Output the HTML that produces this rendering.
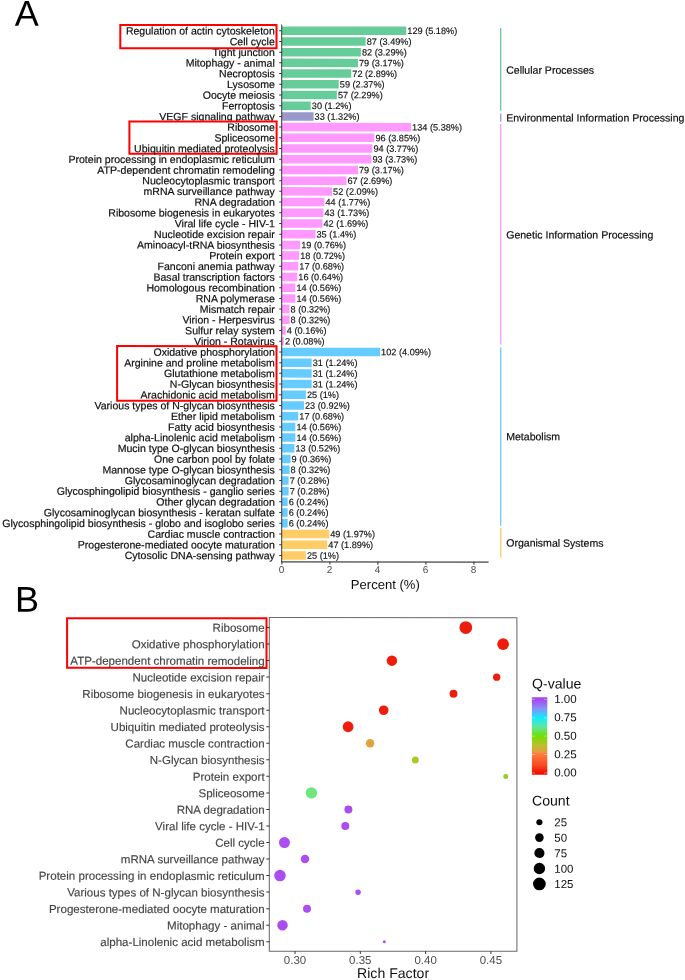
<!DOCTYPE html>
<html lang="en"><head><meta charset="utf-8"><title>KEGG enrichment figure</title>
<style>html,body{margin:0;padding:0;background:#fff}svg{display:block}</style></head>
<body>
<svg width="685" height="980" viewBox="0 0 685 980" font-family="'Liberation Sans', sans-serif">
<rect width="685" height="980" fill="#fff"/>
<defs><filter id="soft" x="0" y="0" width="685" height="980" filterUnits="userSpaceOnUse"><feGaussianBlur stdDeviation="0.45"/></filter></defs>
<g filter="url(#soft)"><g transform="matrix(1 0.0005 0 1 0 -0.15)" style="text-rendering:geometricPrecision">
<text x="14.65" y="26" font-size="36" fill="#000">A</text>
<text x="14.95" y="612" font-size="36" fill="#000">B</text>
<g>
<text x="274.8" y="34.55" font-size="10.55" text-anchor="end" fill="#111" stroke="#111" stroke-width="0.2">Regulation of actin cytoskeleton</text>
<text x="274.8" y="45.26" font-size="10.55" text-anchor="end" fill="#111" stroke="#111" stroke-width="0.2">Cell cycle</text>
<text x="274.8" y="55.96" font-size="10.55" text-anchor="end" fill="#111" stroke="#111" stroke-width="0.2">Tight junction</text>
<text x="274.8" y="66.67" font-size="10.55" text-anchor="end" fill="#111" stroke="#111" stroke-width="0.2">Mitophagy - animal</text>
<text x="274.8" y="77.38" font-size="10.55" text-anchor="end" fill="#111" stroke="#111" stroke-width="0.2">Necroptosis</text>
<text x="274.8" y="88.08" font-size="10.55" text-anchor="end" fill="#111" stroke="#111" stroke-width="0.2">Lysosome</text>
<text x="274.8" y="98.79" font-size="10.55" text-anchor="end" fill="#111" stroke="#111" stroke-width="0.2">Oocyte meiosis</text>
<text x="274.8" y="109.50" font-size="10.55" text-anchor="end" fill="#111" stroke="#111" stroke-width="0.2">Ferroptosis</text>
<text x="274.8" y="120.21" font-size="10.55" text-anchor="end" fill="#111" stroke="#111" stroke-width="0.2">VEGF signaling pathway</text>
<text x="274.8" y="130.91" font-size="10.55" text-anchor="end" fill="#111" stroke="#111" stroke-width="0.2">Ribosome</text>
<text x="274.8" y="141.62" font-size="10.55" text-anchor="end" fill="#111" stroke="#111" stroke-width="0.2">Spliceosome</text>
<text x="274.8" y="152.33" font-size="10.55" text-anchor="end" fill="#111" stroke="#111" stroke-width="0.2">Ubiquitin mediated proteolysis</text>
<text x="274.8" y="163.03" font-size="10.55" text-anchor="end" fill="#111" stroke="#111" stroke-width="0.2">Protein processing in endoplasmic reticulum</text>
<text x="274.8" y="173.74" font-size="10.55" text-anchor="end" fill="#111" stroke="#111" stroke-width="0.2">ATP-dependent chromatin remodeling</text>
<text x="274.8" y="184.45" font-size="10.55" text-anchor="end" fill="#111" stroke="#111" stroke-width="0.2">Nucleocytoplasmic transport</text>
<text x="274.8" y="195.16" font-size="10.55" text-anchor="end" fill="#111" stroke="#111" stroke-width="0.2">mRNA surveillance pathway</text>
<text x="274.8" y="205.86" font-size="10.55" text-anchor="end" fill="#111" stroke="#111" stroke-width="0.2">RNA degradation</text>
<text x="274.8" y="216.57" font-size="10.55" text-anchor="end" fill="#111" stroke="#111" stroke-width="0.2">Ribosome biogenesis in eukaryotes</text>
<text x="274.8" y="227.28" font-size="10.55" text-anchor="end" fill="#111" stroke="#111" stroke-width="0.2">Viral life cycle - HIV-1</text>
<text x="274.8" y="237.98" font-size="10.55" text-anchor="end" fill="#111" stroke="#111" stroke-width="0.2">Nucleotide excision repair</text>
<text x="274.8" y="248.69" font-size="10.55" text-anchor="end" fill="#111" stroke="#111" stroke-width="0.2">Aminoacyl-tRNA biosynthesis</text>
<text x="274.8" y="259.40" font-size="10.55" text-anchor="end" fill="#111" stroke="#111" stroke-width="0.2">Protein export</text>
<text x="274.8" y="270.10" font-size="10.55" text-anchor="end" fill="#111" stroke="#111" stroke-width="0.2">Fanconi anemia pathway</text>
<text x="274.8" y="280.81" font-size="10.55" text-anchor="end" fill="#111" stroke="#111" stroke-width="0.2">Basal transcription factors</text>
<text x="274.8" y="291.52" font-size="10.55" text-anchor="end" fill="#111" stroke="#111" stroke-width="0.2">Homologous recombination</text>
<text x="274.8" y="302.23" font-size="10.55" text-anchor="end" fill="#111" stroke="#111" stroke-width="0.2">RNA polymerase</text>
<text x="274.8" y="312.93" font-size="10.55" text-anchor="end" fill="#111" stroke="#111" stroke-width="0.2">Mismatch repair</text>
<text x="274.8" y="323.64" font-size="10.55" text-anchor="end" fill="#111" stroke="#111" stroke-width="0.2">Virion - Herpesvirus</text>
<text x="274.8" y="334.35" font-size="10.55" text-anchor="end" fill="#111" stroke="#111" stroke-width="0.2">Sulfur relay system</text>
<text x="274.8" y="345.05" font-size="10.55" text-anchor="end" fill="#111" stroke="#111" stroke-width="0.2">Virion - Rotavirus</text>
<text x="274.8" y="355.76" font-size="10.55" text-anchor="end" fill="#111" stroke="#111" stroke-width="0.2">Oxidative phosphorylation</text>
<text x="274.8" y="366.47" font-size="10.55" text-anchor="end" fill="#111" stroke="#111" stroke-width="0.2">Arginine and proline metabolism</text>
<text x="274.8" y="377.17" font-size="10.55" text-anchor="end" fill="#111" stroke="#111" stroke-width="0.2">Glutathione metabolism</text>
<text x="274.8" y="387.88" font-size="10.55" text-anchor="end" fill="#111" stroke="#111" stroke-width="0.2">N-Glycan biosynthesis</text>
<text x="274.8" y="398.59" font-size="10.55" text-anchor="end" fill="#111" stroke="#111" stroke-width="0.2">Arachidonic acid metabolism</text>
<text x="274.8" y="409.30" font-size="10.55" text-anchor="end" fill="#111" stroke="#111" stroke-width="0.2">Various types of N-glycan biosynthesis</text>
<text x="274.8" y="420.00" font-size="10.55" text-anchor="end" fill="#111" stroke="#111" stroke-width="0.2">Ether lipid metabolism</text>
<text x="274.8" y="430.71" font-size="10.55" text-anchor="end" fill="#111" stroke="#111" stroke-width="0.2">Fatty acid biosynthesis</text>
<text x="274.8" y="441.42" font-size="10.55" text-anchor="end" fill="#111" stroke="#111" stroke-width="0.2">alpha-Linolenic acid metabolism</text>
<text x="274.8" y="452.12" font-size="10.55" text-anchor="end" fill="#111" stroke="#111" stroke-width="0.2">Mucin type O-glycan biosynthesis</text>
<text x="274.8" y="462.83" font-size="10.55" text-anchor="end" fill="#111" stroke="#111" stroke-width="0.2">One carbon pool by folate</text>
<text x="274.8" y="473.54" font-size="10.55" text-anchor="end" fill="#111" stroke="#111" stroke-width="0.2">Mannose type O-glycan biosynthesis</text>
<text x="274.8" y="484.24" font-size="10.55" text-anchor="end" fill="#111" stroke="#111" stroke-width="0.2">Glycosaminoglycan degradation</text>
<text x="274.8" y="494.95" font-size="10.55" text-anchor="end" fill="#111" stroke="#111" stroke-width="0.2">Glycosphingolipid biosynthesis - ganglio series</text>
<text x="274.8" y="505.66" font-size="10.55" text-anchor="end" fill="#111" stroke="#111" stroke-width="0.2">Other glycan degradation</text>
<text x="274.8" y="516.37" font-size="10.55" text-anchor="end" fill="#111" stroke="#111" stroke-width="0.2">Glycosaminoglycan biosynthesis - keratan sulfate</text>
<text x="274.8" y="527.07" font-size="10.55" text-anchor="end" fill="#111" stroke="#111" stroke-width="0.2">Glycosphingolipid biosynthesis - globo and isoglobo series</text>
<text x="274.8" y="537.78" font-size="10.55" text-anchor="end" fill="#111" stroke="#111" stroke-width="0.2">Cardiac muscle contraction</text>
<text x="274.8" y="548.49" font-size="10.55" text-anchor="end" fill="#111" stroke="#111" stroke-width="0.2">Progesterone-mediated oocyte maturation</text>
<text x="274.8" y="559.19" font-size="10.55" text-anchor="end" fill="#111" stroke="#111" stroke-width="0.2">Cytosolic DNA-sensing pathway</text>
</g>
<rect x="120.3" y="25.0" width="156.2" height="23.3" fill="#fff" stroke="#FF0000" stroke-width="2"/>
<text x="274.8" y="34.55" font-size="10.55" text-anchor="end" fill="#111" stroke="#111" stroke-width="0.2">Regulation of actin cytoskeleton</text>
<text x="274.8" y="45.26" font-size="10.55" text-anchor="end" fill="#111" stroke="#111" stroke-width="0.2">Cell cycle</text>
<rect x="129.4" y="121.6" width="147.2" height="32.2" fill="#fff" stroke="#FF0000" stroke-width="2"/>
<text x="274.8" y="130.91" font-size="10.55" text-anchor="end" fill="#111" stroke="#111" stroke-width="0.2">Ribosome</text>
<text x="274.8" y="141.62" font-size="10.55" text-anchor="end" fill="#111" stroke="#111" stroke-width="0.2">Spliceosome</text>
<text x="274.8" y="152.33" font-size="10.55" text-anchor="end" fill="#111" stroke="#111" stroke-width="0.2">Ubiquitin mediated proteolysis</text>
<rect x="117.1" y="346.2" width="159.4" height="54.6" fill="#fff" stroke="#FF0000" stroke-width="2"/>
<text x="274.8" y="355.76" font-size="10.55" text-anchor="end" fill="#111" stroke="#111" stroke-width="0.2">Oxidative phosphorylation</text>
<text x="274.8" y="366.47" font-size="10.55" text-anchor="end" fill="#111" stroke="#111" stroke-width="0.2">Arginine and proline metabolism</text>
<text x="274.8" y="377.17" font-size="10.55" text-anchor="end" fill="#111" stroke="#111" stroke-width="0.2">Glutathione metabolism</text>
<text x="274.8" y="387.88" font-size="10.55" text-anchor="end" fill="#111" stroke="#111" stroke-width="0.2">N-Glycan biosynthesis</text>
<text x="274.8" y="398.59" font-size="10.55" text-anchor="end" fill="#111" stroke="#111" stroke-width="0.2">Arachidonic acid metabolism</text>
<rect x="281.9" y="26.50" width="124.32" height="8.5" fill="#66CC99"/>
<text x="407.3" y="34.05" font-size="9.18" fill="#111" stroke="#111" stroke-width="0.15">129 (5.18%)</text>
<line x1="279.2" x2="281.7" y1="30.75" y2="30.75" stroke="#333" stroke-width="1"/>
<rect x="281.9" y="37.21" width="83.76" height="8.5" fill="#66CC99"/>
<text x="366.7" y="44.76" font-size="9.18" fill="#111" stroke="#111" stroke-width="0.15">87 (3.49%)</text>
<line x1="279.2" x2="281.7" y1="41.46" y2="41.46" stroke="#333" stroke-width="1"/>
<rect x="281.9" y="47.91" width="78.96" height="8.5" fill="#66CC99"/>
<text x="361.9" y="55.46" font-size="9.18" fill="#111" stroke="#111" stroke-width="0.15">82 (3.29%)</text>
<line x1="279.2" x2="281.7" y1="52.16" y2="52.16" stroke="#333" stroke-width="1"/>
<rect x="281.9" y="58.62" width="76.08" height="8.5" fill="#66CC99"/>
<text x="359.0" y="66.17" font-size="9.18" fill="#111" stroke="#111" stroke-width="0.15">79 (3.17%)</text>
<line x1="279.2" x2="281.7" y1="62.87" y2="62.87" stroke="#333" stroke-width="1"/>
<rect x="281.9" y="69.33" width="69.36" height="8.5" fill="#66CC99"/>
<text x="352.3" y="76.88" font-size="9.18" fill="#111" stroke="#111" stroke-width="0.15">72 (2.89%)</text>
<line x1="279.2" x2="281.7" y1="73.58" y2="73.58" stroke="#333" stroke-width="1"/>
<rect x="281.9" y="80.03" width="56.88" height="8.5" fill="#66CC99"/>
<text x="339.8" y="87.58" font-size="9.18" fill="#111" stroke="#111" stroke-width="0.15">59 (2.37%)</text>
<line x1="279.2" x2="281.7" y1="84.28" y2="84.28" stroke="#333" stroke-width="1"/>
<rect x="281.9" y="90.74" width="54.96" height="8.5" fill="#66CC99"/>
<text x="337.9" y="98.29" font-size="9.18" fill="#111" stroke="#111" stroke-width="0.15">57 (2.29%)</text>
<line x1="279.2" x2="281.7" y1="94.99" y2="94.99" stroke="#333" stroke-width="1"/>
<rect x="281.9" y="101.45" width="28.80" height="8.5" fill="#66CC99"/>
<text x="311.8" y="109.00" font-size="9.18" fill="#111" stroke="#111" stroke-width="0.15">30 (1.2%)</text>
<line x1="279.2" x2="281.7" y1="105.70" y2="105.70" stroke="#333" stroke-width="1"/>
<rect x="281.9" y="112.16" width="31.68" height="8.5" fill="#9999CC"/>
<text x="314.6" y="119.71" font-size="9.18" fill="#111" stroke="#111" stroke-width="0.15">33 (1.32%)</text>
<line x1="279.2" x2="281.7" y1="116.41" y2="116.41" stroke="#333" stroke-width="1"/>
<rect x="281.9" y="122.86" width="129.12" height="8.5" fill="#FF99FF"/>
<text x="412.1" y="130.41" font-size="9.18" fill="#111" stroke="#111" stroke-width="0.15">134 (5.38%)</text>
<line x1="279.2" x2="281.7" y1="127.11" y2="127.11" stroke="#333" stroke-width="1"/>
<rect x="281.9" y="133.57" width="92.40" height="8.5" fill="#FF99FF"/>
<text x="375.4" y="141.12" font-size="9.18" fill="#111" stroke="#111" stroke-width="0.15">96 (3.85%)</text>
<line x1="279.2" x2="281.7" y1="137.82" y2="137.82" stroke="#333" stroke-width="1"/>
<rect x="281.9" y="144.28" width="90.48" height="8.5" fill="#FF99FF"/>
<text x="373.4" y="151.83" font-size="9.18" fill="#111" stroke="#111" stroke-width="0.15">94 (3.77%)</text>
<line x1="279.2" x2="281.7" y1="148.53" y2="148.53" stroke="#333" stroke-width="1"/>
<rect x="281.9" y="154.98" width="89.52" height="8.5" fill="#FF99FF"/>
<text x="372.5" y="162.53" font-size="9.18" fill="#111" stroke="#111" stroke-width="0.15">93 (3.73%)</text>
<line x1="279.2" x2="281.7" y1="159.23" y2="159.23" stroke="#333" stroke-width="1"/>
<rect x="281.9" y="165.69" width="76.08" height="8.5" fill="#FF99FF"/>
<text x="359.0" y="173.24" font-size="9.18" fill="#111" stroke="#111" stroke-width="0.15">79 (3.17%)</text>
<line x1="279.2" x2="281.7" y1="169.94" y2="169.94" stroke="#333" stroke-width="1"/>
<rect x="281.9" y="176.40" width="64.56" height="8.5" fill="#FF99FF"/>
<text x="347.5" y="183.95" font-size="9.18" fill="#111" stroke="#111" stroke-width="0.15">67 (2.69%)</text>
<line x1="279.2" x2="281.7" y1="180.65" y2="180.65" stroke="#333" stroke-width="1"/>
<rect x="281.9" y="187.11" width="50.16" height="8.5" fill="#FF99FF"/>
<text x="333.1" y="194.66" font-size="9.18" fill="#111" stroke="#111" stroke-width="0.15">52 (2.09%)</text>
<line x1="279.2" x2="281.7" y1="191.36" y2="191.36" stroke="#333" stroke-width="1"/>
<rect x="281.9" y="197.81" width="42.48" height="8.5" fill="#FF99FF"/>
<text x="325.4" y="205.36" font-size="9.18" fill="#111" stroke="#111" stroke-width="0.15">44 (1.77%)</text>
<line x1="279.2" x2="281.7" y1="202.06" y2="202.06" stroke="#333" stroke-width="1"/>
<rect x="281.9" y="208.52" width="41.52" height="8.5" fill="#FF99FF"/>
<text x="324.5" y="216.07" font-size="9.18" fill="#111" stroke="#111" stroke-width="0.15">43 (1.73%)</text>
<line x1="279.2" x2="281.7" y1="212.77" y2="212.77" stroke="#333" stroke-width="1"/>
<rect x="281.9" y="219.23" width="40.56" height="8.5" fill="#FF99FF"/>
<text x="323.5" y="226.78" font-size="9.18" fill="#111" stroke="#111" stroke-width="0.15">42 (1.69%)</text>
<line x1="279.2" x2="281.7" y1="223.48" y2="223.48" stroke="#333" stroke-width="1"/>
<rect x="281.9" y="229.93" width="33.60" height="8.5" fill="#FF99FF"/>
<text x="316.5" y="237.48" font-size="9.18" fill="#111" stroke="#111" stroke-width="0.15">35 (1.4%)</text>
<line x1="279.2" x2="281.7" y1="234.18" y2="234.18" stroke="#333" stroke-width="1"/>
<rect x="281.9" y="240.64" width="18.24" height="8.5" fill="#FF99FF"/>
<text x="301.2" y="248.19" font-size="9.18" fill="#111" stroke="#111" stroke-width="0.15">19 (0.76%)</text>
<line x1="279.2" x2="281.7" y1="244.89" y2="244.89" stroke="#333" stroke-width="1"/>
<rect x="281.9" y="251.35" width="17.28" height="8.5" fill="#FF99FF"/>
<text x="300.2" y="258.90" font-size="9.18" fill="#111" stroke="#111" stroke-width="0.15">18 (0.72%)</text>
<line x1="279.2" x2="281.7" y1="255.60" y2="255.60" stroke="#333" stroke-width="1"/>
<rect x="281.9" y="262.05" width="16.32" height="8.5" fill="#FF99FF"/>
<text x="299.3" y="269.60" font-size="9.18" fill="#111" stroke="#111" stroke-width="0.15">17 (0.68%)</text>
<line x1="279.2" x2="281.7" y1="266.30" y2="266.30" stroke="#333" stroke-width="1"/>
<rect x="281.9" y="272.76" width="15.36" height="8.5" fill="#FF99FF"/>
<text x="298.3" y="280.31" font-size="9.18" fill="#111" stroke="#111" stroke-width="0.15">16 (0.64%)</text>
<line x1="279.2" x2="281.7" y1="277.01" y2="277.01" stroke="#333" stroke-width="1"/>
<rect x="281.9" y="283.47" width="13.44" height="8.5" fill="#FF99FF"/>
<text x="296.4" y="291.02" font-size="9.18" fill="#111" stroke="#111" stroke-width="0.15">14 (0.56%)</text>
<line x1="279.2" x2="281.7" y1="287.72" y2="287.72" stroke="#333" stroke-width="1"/>
<rect x="281.9" y="294.18" width="13.44" height="8.5" fill="#FF99FF"/>
<text x="296.4" y="301.73" font-size="9.18" fill="#111" stroke="#111" stroke-width="0.15">14 (0.56%)</text>
<line x1="279.2" x2="281.7" y1="298.43" y2="298.43" stroke="#333" stroke-width="1"/>
<rect x="281.9" y="304.88" width="7.68" height="8.5" fill="#FF99FF"/>
<text x="290.6" y="312.43" font-size="9.18" fill="#111" stroke="#111" stroke-width="0.15">8 (0.32%)</text>
<line x1="279.2" x2="281.7" y1="309.13" y2="309.13" stroke="#333" stroke-width="1"/>
<rect x="281.9" y="315.59" width="7.68" height="8.5" fill="#FF99FF"/>
<text x="290.6" y="323.14" font-size="9.18" fill="#111" stroke="#111" stroke-width="0.15">8 (0.32%)</text>
<line x1="279.2" x2="281.7" y1="319.84" y2="319.84" stroke="#333" stroke-width="1"/>
<rect x="281.9" y="326.30" width="3.84" height="8.5" fill="#FF99FF"/>
<text x="286.8" y="333.85" font-size="9.18" fill="#111" stroke="#111" stroke-width="0.15">4 (0.16%)</text>
<line x1="279.2" x2="281.7" y1="330.55" y2="330.55" stroke="#333" stroke-width="1"/>
<rect x="281.9" y="337.00" width="1.92" height="8.5" fill="#FF99FF"/>
<text x="284.9" y="344.55" font-size="9.18" fill="#111" stroke="#111" stroke-width="0.15">2 (0.08%)</text>
<line x1="279.2" x2="281.7" y1="341.25" y2="341.25" stroke="#333" stroke-width="1"/>
<rect x="281.9" y="347.71" width="98.16" height="8.5" fill="#66CCFF"/>
<text x="381.1" y="355.26" font-size="9.18" fill="#111" stroke="#111" stroke-width="0.15">102 (4.09%)</text>
<line x1="279.2" x2="281.7" y1="351.96" y2="351.96" stroke="#333" stroke-width="1"/>
<rect x="281.9" y="358.42" width="29.76" height="8.5" fill="#66CCFF"/>
<text x="312.7" y="365.97" font-size="9.18" fill="#111" stroke="#111" stroke-width="0.15">31 (1.24%)</text>
<line x1="279.2" x2="281.7" y1="362.67" y2="362.67" stroke="#333" stroke-width="1"/>
<rect x="281.9" y="369.12" width="29.76" height="8.5" fill="#66CCFF"/>
<text x="312.7" y="376.67" font-size="9.18" fill="#111" stroke="#111" stroke-width="0.15">31 (1.24%)</text>
<line x1="279.2" x2="281.7" y1="373.37" y2="373.37" stroke="#333" stroke-width="1"/>
<rect x="281.9" y="379.83" width="29.76" height="8.5" fill="#66CCFF"/>
<text x="312.7" y="387.38" font-size="9.18" fill="#111" stroke="#111" stroke-width="0.15">31 (1.24%)</text>
<line x1="279.2" x2="281.7" y1="384.08" y2="384.08" stroke="#333" stroke-width="1"/>
<rect x="281.9" y="390.54" width="24.00" height="8.5" fill="#66CCFF"/>
<text x="306.9" y="398.09" font-size="9.18" fill="#111" stroke="#111" stroke-width="0.15">25 (1%)</text>
<line x1="279.2" x2="281.7" y1="394.79" y2="394.79" stroke="#333" stroke-width="1"/>
<rect x="281.9" y="401.25" width="22.08" height="8.5" fill="#66CCFF"/>
<text x="305.0" y="408.80" font-size="9.18" fill="#111" stroke="#111" stroke-width="0.15">23 (0.92%)</text>
<line x1="279.2" x2="281.7" y1="405.50" y2="405.50" stroke="#333" stroke-width="1"/>
<rect x="281.9" y="411.95" width="16.32" height="8.5" fill="#66CCFF"/>
<text x="299.3" y="419.50" font-size="9.18" fill="#111" stroke="#111" stroke-width="0.15">17 (0.68%)</text>
<line x1="279.2" x2="281.7" y1="416.20" y2="416.20" stroke="#333" stroke-width="1"/>
<rect x="281.9" y="422.66" width="13.44" height="8.5" fill="#66CCFF"/>
<text x="296.4" y="430.21" font-size="9.18" fill="#111" stroke="#111" stroke-width="0.15">14 (0.56%)</text>
<line x1="279.2" x2="281.7" y1="426.91" y2="426.91" stroke="#333" stroke-width="1"/>
<rect x="281.9" y="433.37" width="13.44" height="8.5" fill="#66CCFF"/>
<text x="296.4" y="440.92" font-size="9.18" fill="#111" stroke="#111" stroke-width="0.15">14 (0.56%)</text>
<line x1="279.2" x2="281.7" y1="437.62" y2="437.62" stroke="#333" stroke-width="1"/>
<rect x="281.9" y="444.07" width="12.48" height="8.5" fill="#66CCFF"/>
<text x="295.4" y="451.62" font-size="9.18" fill="#111" stroke="#111" stroke-width="0.15">13 (0.52%)</text>
<line x1="279.2" x2="281.7" y1="448.32" y2="448.32" stroke="#333" stroke-width="1"/>
<rect x="281.9" y="454.78" width="8.64" height="8.5" fill="#66CCFF"/>
<text x="291.6" y="462.33" font-size="9.18" fill="#111" stroke="#111" stroke-width="0.15">9 (0.36%)</text>
<line x1="279.2" x2="281.7" y1="459.03" y2="459.03" stroke="#333" stroke-width="1"/>
<rect x="281.9" y="465.49" width="7.68" height="8.5" fill="#66CCFF"/>
<text x="290.6" y="473.04" font-size="9.18" fill="#111" stroke="#111" stroke-width="0.15">8 (0.32%)</text>
<line x1="279.2" x2="281.7" y1="469.74" y2="469.74" stroke="#333" stroke-width="1"/>
<rect x="281.9" y="476.19" width="6.72" height="8.5" fill="#66CCFF"/>
<text x="289.7" y="483.74" font-size="9.18" fill="#111" stroke="#111" stroke-width="0.15">7 (0.28%)</text>
<line x1="279.2" x2="281.7" y1="480.44" y2="480.44" stroke="#333" stroke-width="1"/>
<rect x="281.9" y="486.90" width="6.72" height="8.5" fill="#66CCFF"/>
<text x="289.7" y="494.45" font-size="9.18" fill="#111" stroke="#111" stroke-width="0.15">7 (0.28%)</text>
<line x1="279.2" x2="281.7" y1="491.15" y2="491.15" stroke="#333" stroke-width="1"/>
<rect x="281.9" y="497.61" width="5.76" height="8.5" fill="#66CCFF"/>
<text x="288.7" y="505.16" font-size="9.18" fill="#111" stroke="#111" stroke-width="0.15">6 (0.24%)</text>
<line x1="279.2" x2="281.7" y1="501.86" y2="501.86" stroke="#333" stroke-width="1"/>
<rect x="281.9" y="508.32" width="5.76" height="8.5" fill="#66CCFF"/>
<text x="288.7" y="515.87" font-size="9.18" fill="#111" stroke="#111" stroke-width="0.15">6 (0.24%)</text>
<line x1="279.2" x2="281.7" y1="512.57" y2="512.57" stroke="#333" stroke-width="1"/>
<rect x="281.9" y="519.02" width="5.76" height="8.5" fill="#66CCFF"/>
<text x="288.7" y="526.57" font-size="9.18" fill="#111" stroke="#111" stroke-width="0.15">6 (0.24%)</text>
<line x1="279.2" x2="281.7" y1="523.27" y2="523.27" stroke="#333" stroke-width="1"/>
<rect x="281.9" y="529.73" width="47.28" height="8.5" fill="#FFCC66"/>
<text x="330.2" y="537.28" font-size="9.18" fill="#111" stroke="#111" stroke-width="0.15">49 (1.97%)</text>
<line x1="279.2" x2="281.7" y1="533.98" y2="533.98" stroke="#333" stroke-width="1"/>
<rect x="281.9" y="540.44" width="45.36" height="8.5" fill="#FFCC66"/>
<text x="328.3" y="547.99" font-size="9.18" fill="#111" stroke="#111" stroke-width="0.15">47 (1.89%)</text>
<line x1="279.2" x2="281.7" y1="544.69" y2="544.69" stroke="#333" stroke-width="1"/>
<rect x="281.9" y="551.14" width="24.00" height="8.5" fill="#FFCC66"/>
<text x="306.9" y="558.69" font-size="9.18" fill="#111" stroke="#111" stroke-width="0.15">25 (1%)</text>
<line x1="279.2" x2="281.7" y1="555.39" y2="555.39" stroke="#333" stroke-width="1"/>
<line x1="281.7" x2="281.7" y1="24.5" y2="562.2" stroke="#333" stroke-width="1"/>
<line x1="281.2" x2="488.6" y1="562.0" y2="562.0" stroke="#444" stroke-width="1.25"/>
<line x1="281.9" x2="281.9" y1="561.7" y2="564.6" stroke="#333" stroke-width="1"/>
<text x="281.6" y="573.0" font-size="10" text-anchor="middle" fill="#4d4d4d">0</text>
<line x1="329.9" x2="329.9" y1="561.7" y2="564.6" stroke="#333" stroke-width="1"/>
<text x="329.6" y="573.0" font-size="10" text-anchor="middle" fill="#4d4d4d">2</text>
<line x1="377.9" x2="377.9" y1="561.7" y2="564.6" stroke="#333" stroke-width="1"/>
<text x="377.6" y="573.0" font-size="10" text-anchor="middle" fill="#4d4d4d">4</text>
<line x1="425.9" x2="425.9" y1="561.7" y2="564.6" stroke="#333" stroke-width="1"/>
<text x="425.6" y="573.0" font-size="10" text-anchor="middle" fill="#4d4d4d">6</text>
<line x1="473.9" x2="473.9" y1="561.7" y2="564.6" stroke="#333" stroke-width="1"/>
<text x="473.6" y="573.0" font-size="10" text-anchor="middle" fill="#4d4d4d">8</text>
<text x="385.3" y="588.9" font-size="13.05" text-anchor="middle" fill="#111">Percent (%)</text>
<line x1="500.7" x2="500.7" y1="28.0" y2="110.6" stroke="#66CC99" stroke-width="1.3"/>
<text x="506.2" y="73.70" font-size="10.55" fill="#111" stroke="#111" stroke-width="0.2">Cellular Processes</text>
<line x1="500.7" x2="500.7" y1="113.4" y2="121.6" stroke="#9999CC" stroke-width="1.3"/>
<text x="506.2" y="121.40" font-size="10.55" fill="#111" stroke="#111" stroke-width="0.2">Environmental Information Processing</text>
<line x1="500.7" x2="500.7" y1="124.0" y2="344.5" stroke="#FF99FF" stroke-width="1.3"/>
<text x="506.2" y="238.30" font-size="10.55" fill="#111" stroke="#111" stroke-width="0.2">Genetic Information Processing</text>
<line x1="500.7" x2="500.7" y1="347.3" y2="525.7" stroke="#66CCFF" stroke-width="1.3"/>
<text x="506.2" y="440.20" font-size="10.55" fill="#111" stroke="#111" stroke-width="0.2">Metabolism</text>
<line x1="500.7" x2="500.7" y1="528.0" y2="557.7" stroke="#FFCC66" stroke-width="1.3"/>
<text x="506.2" y="546.50" font-size="10.55" fill="#111" stroke="#111" stroke-width="0.2">Organismal Systems</text>
<rect x="67.1" y="618.3" width="199.4" height="49.6" fill="#fff" stroke="#FF0000" stroke-width="2"/>
<rect x="269.3" y="617.6" width="247.6" height="333.6" fill="#fff" stroke="#6a6a6a" stroke-width="1.05"/>
<text x="264.6" y="631.85" font-size="11.56" text-anchor="end" fill="#454545" stroke="#454545" stroke-width="0.15">Ribosome</text>
<line x1="266.3" x2="269.3" y1="627.50" y2="627.50" stroke="#333" stroke-width="1"/>
<circle cx="465.8" cy="627.50" r="6.40" fill="#EE1C08"/>
<text x="264.6" y="648.39" font-size="11.56" text-anchor="end" fill="#454545" stroke="#454545" stroke-width="0.15">Oxidative phosphorylation</text>
<line x1="266.3" x2="269.3" y1="644.04" y2="644.04" stroke="#333" stroke-width="1"/>
<circle cx="503.1" cy="644.04" r="5.85" fill="#EE1C08"/>
<text x="264.6" y="664.93" font-size="11.56" text-anchor="end" fill="#454545" stroke="#454545" stroke-width="0.15">ATP-dependent chromatin remodeling</text>
<line x1="266.3" x2="269.3" y1="660.58" y2="660.58" stroke="#333" stroke-width="1"/>
<circle cx="391.9" cy="660.58" r="5.25" fill="#EE1C08"/>
<text x="264.6" y="681.47" font-size="11.56" text-anchor="end" fill="#454545" stroke="#454545" stroke-width="0.15">Nucleotide excision repair</text>
<line x1="266.3" x2="269.3" y1="677.12" y2="677.12" stroke="#333" stroke-width="1"/>
<circle cx="496.7" cy="677.12" r="3.65" fill="#EE1C08"/>
<text x="264.6" y="698.01" font-size="11.56" text-anchor="end" fill="#454545" stroke="#454545" stroke-width="0.15">Ribosome biogenesis in eukaryotes</text>
<line x1="266.3" x2="269.3" y1="693.66" y2="693.66" stroke="#333" stroke-width="1"/>
<circle cx="453.5" cy="693.66" r="3.95" fill="#EE1C08"/>
<text x="264.6" y="714.55" font-size="11.56" text-anchor="end" fill="#454545" stroke="#454545" stroke-width="0.15">Nucleocytoplasmic transport</text>
<line x1="266.3" x2="269.3" y1="710.20" y2="710.20" stroke="#333" stroke-width="1"/>
<circle cx="383.7" cy="710.20" r="4.80" fill="#EE1C08"/>
<text x="264.6" y="731.09" font-size="11.56" text-anchor="end" fill="#454545" stroke="#454545" stroke-width="0.15">Ubiquitin mediated proteolysis</text>
<line x1="266.3" x2="269.3" y1="726.74" y2="726.74" stroke="#333" stroke-width="1"/>
<circle cx="348.1" cy="726.74" r="5.40" fill="#EE1C08"/>
<text x="264.6" y="747.63" font-size="11.56" text-anchor="end" fill="#454545" stroke="#454545" stroke-width="0.15">Cardiac muscle contraction</text>
<line x1="266.3" x2="269.3" y1="743.28" y2="743.28" stroke="#333" stroke-width="1"/>
<circle cx="370.1" cy="743.28" r="4.25" fill="#E0A23C"/>
<text x="264.6" y="764.17" font-size="11.56" text-anchor="end" fill="#454545" stroke="#454545" stroke-width="0.15">N-Glycan biosynthesis</text>
<line x1="266.3" x2="269.3" y1="759.82" y2="759.82" stroke="#333" stroke-width="1"/>
<circle cx="415.4" cy="759.82" r="3.50" fill="#A8CC28"/>
<text x="264.6" y="780.71" font-size="11.56" text-anchor="end" fill="#454545" stroke="#454545" stroke-width="0.15">Protein export</text>
<line x1="266.3" x2="269.3" y1="776.36" y2="776.36" stroke="#333" stroke-width="1"/>
<circle cx="505.8" cy="776.36" r="2.50" fill="#96CE20"/>
<text x="264.6" y="797.25" font-size="11.56" text-anchor="end" fill="#454545" stroke="#454545" stroke-width="0.15">Spliceosome</text>
<line x1="266.3" x2="269.3" y1="792.90" y2="792.90" stroke="#333" stroke-width="1"/>
<circle cx="311.4" cy="792.90" r="5.70" fill="#6EE87E"/>
<text x="264.6" y="813.79" font-size="11.56" text-anchor="end" fill="#454545" stroke="#454545" stroke-width="0.15">RNA degradation</text>
<line x1="266.3" x2="269.3" y1="809.44" y2="809.44" stroke="#333" stroke-width="1"/>
<circle cx="348.4" cy="809.44" r="4.00" fill="#AC4EF0"/>
<text x="264.6" y="830.33" font-size="11.56" text-anchor="end" fill="#454545" stroke="#454545" stroke-width="0.15">Viral life cycle - HIV-1</text>
<line x1="266.3" x2="269.3" y1="825.98" y2="825.98" stroke="#333" stroke-width="1"/>
<circle cx="345.3" cy="825.98" r="4.00" fill="#AC4EF0"/>
<text x="264.6" y="846.87" font-size="11.56" text-anchor="end" fill="#454545" stroke="#454545" stroke-width="0.15">Cell cycle</text>
<line x1="266.3" x2="269.3" y1="842.52" y2="842.52" stroke="#333" stroke-width="1"/>
<circle cx="284.5" cy="842.52" r="5.50" fill="#AC4EF0"/>
<text x="264.6" y="863.41" font-size="11.56" text-anchor="end" fill="#454545" stroke="#454545" stroke-width="0.15">mRNA surveillance pathway</text>
<line x1="266.3" x2="269.3" y1="859.06" y2="859.06" stroke="#333" stroke-width="1"/>
<circle cx="305.0" cy="859.06" r="4.25" fill="#AC4EF0"/>
<text x="264.6" y="879.95" font-size="11.56" text-anchor="end" fill="#454545" stroke="#454545" stroke-width="0.15">Protein processing in endoplasmic reticulum</text>
<line x1="266.3" x2="269.3" y1="875.60" y2="875.60" stroke="#333" stroke-width="1"/>
<circle cx="280.0" cy="875.60" r="5.75" fill="#AC4EF0"/>
<text x="264.6" y="896.49" font-size="11.56" text-anchor="end" fill="#454545" stroke="#454545" stroke-width="0.15">Various types of N-glycan biosynthesis</text>
<line x1="266.3" x2="269.3" y1="892.14" y2="892.14" stroke="#333" stroke-width="1"/>
<circle cx="358.1" cy="892.14" r="2.75" fill="#AC4EF0"/>
<text x="264.6" y="913.03" font-size="11.56" text-anchor="end" fill="#454545" stroke="#454545" stroke-width="0.15">Progesterone-mediated oocyte maturation</text>
<line x1="266.3" x2="269.3" y1="908.68" y2="908.68" stroke="#333" stroke-width="1"/>
<circle cx="307.0" cy="908.68" r="4.00" fill="#AC4EF0"/>
<text x="264.6" y="929.57" font-size="11.56" text-anchor="end" fill="#454545" stroke="#454545" stroke-width="0.15">Mitophagy - animal</text>
<line x1="266.3" x2="269.3" y1="925.22" y2="925.22" stroke="#333" stroke-width="1"/>
<circle cx="282.5" cy="925.22" r="5.25" fill="#AC4EF0"/>
<text x="264.6" y="946.11" font-size="11.56" text-anchor="end" fill="#454545" stroke="#454545" stroke-width="0.15">alpha-Linolenic acid metabolism</text>
<line x1="266.3" x2="269.3" y1="941.76" y2="941.76" stroke="#333" stroke-width="1"/>
<circle cx="384.3" cy="941.76" r="1.50" fill="#AC4EF0"/>
<line x1="295.0" x2="295.0" y1="951.2" y2="954" stroke="#333" stroke-width="1"/>
<text x="295.0" y="964" font-size="11.5" text-anchor="middle" fill="#4d4d4d">0.30</text>
<line x1="360.3" x2="360.3" y1="951.2" y2="954" stroke="#333" stroke-width="1"/>
<text x="360.3" y="964" font-size="11.5" text-anchor="middle" fill="#4d4d4d">0.35</text>
<line x1="425.6" x2="425.6" y1="951.2" y2="954" stroke="#333" stroke-width="1"/>
<text x="425.6" y="964" font-size="11.5" text-anchor="middle" fill="#4d4d4d">0.40</text>
<line x1="490.9" x2="490.9" y1="951.2" y2="954" stroke="#333" stroke-width="1"/>
<text x="490.9" y="964" font-size="11.5" text-anchor="middle" fill="#4d4d4d">0.45</text>
<text x="393.1" y="977.9" font-size="14.1" text-anchor="middle" fill="#111">Rich Factor</text>
<defs><linearGradient id="qg" x1="0" y1="0" x2="0" y2="1"><stop offset="0" stop-color="#A546F0"/><stop offset="0.025" stop-color="#A546F0"/><stop offset="0.14" stop-color="#8C8CF5"/><stop offset="0.262" stop-color="#10ECFF"/><stop offset="0.38" stop-color="#60E6A0"/><stop offset="0.5" stop-color="#70E000"/><stop offset="0.62" stop-color="#BEBE30"/><stop offset="0.70" stop-color="#E0A040"/><stop offset="0.738" stop-color="#FF7840"/><stop offset="0.88" stop-color="#F54A20"/><stop offset="0.975" stop-color="#F01000"/><stop offset="1" stop-color="#F01000"/></linearGradient></defs>
<text x="532" y="688.4" font-size="14.1" fill="#111">Q-value</text>
<rect x="531.9" y="697.2" width="15.4" height="77.5" fill="url(#qg)"/>
<line x1="531.9" x2="535" y1="699.2" y2="699.2" stroke="#fff" stroke-width="0.5" opacity="0.8"/>
<line x1="544.2" x2="547.3" y1="699.2" y2="699.2" stroke="#fff" stroke-width="0.5" opacity="0.8"/>
<text x="554.2" y="702.8" font-size="11.55" fill="#111">1.00</text>
<line x1="531.9" x2="535" y1="717.6" y2="717.6" stroke="#fff" stroke-width="0.5" opacity="0.8"/>
<line x1="544.2" x2="547.3" y1="717.6" y2="717.6" stroke="#fff" stroke-width="0.5" opacity="0.8"/>
<text x="554.2" y="721.2" font-size="11.55" fill="#111">0.75</text>
<line x1="531.9" x2="535" y1="736.0" y2="736.0" stroke="#fff" stroke-width="0.5" opacity="0.8"/>
<line x1="544.2" x2="547.3" y1="736.0" y2="736.0" stroke="#fff" stroke-width="0.5" opacity="0.8"/>
<text x="554.2" y="739.6" font-size="11.55" fill="#111">0.50</text>
<line x1="531.9" x2="535" y1="754.4" y2="754.4" stroke="#fff" stroke-width="0.5" opacity="0.8"/>
<line x1="544.2" x2="547.3" y1="754.4" y2="754.4" stroke="#fff" stroke-width="0.5" opacity="0.8"/>
<text x="554.2" y="758.0" font-size="11.55" fill="#111">0.25</text>
<line x1="531.9" x2="535" y1="772.8" y2="772.8" stroke="#fff" stroke-width="0.5" opacity="0.8"/>
<line x1="544.2" x2="547.3" y1="772.8" y2="772.8" stroke="#fff" stroke-width="0.5" opacity="0.8"/>
<text x="554.2" y="776.4" font-size="11.55" fill="#111">0.00</text>
<text x="532" y="805.4" font-size="14.1" fill="#111">Count</text>
<circle cx="539.4" cy="822.1" r="3.05" fill="#000"/>
<text x="554.3" y="826.2" font-size="11.5" fill="#111">25</text>
<circle cx="539.4" cy="837.5" r="4.30" fill="#000"/>
<text x="554.3" y="841.6" font-size="11.5" fill="#111">50</text>
<circle cx="539.4" cy="852.9" r="5.10" fill="#000"/>
<text x="554.3" y="857.0" font-size="11.5" fill="#111">75</text>
<circle cx="539.4" cy="868.4" r="5.70" fill="#000"/>
<text x="554.3" y="872.5" font-size="11.5" fill="#111">100</text>
<circle cx="539.4" cy="883.8" r="6.35" fill="#000"/>
<text x="554.3" y="887.9" font-size="11.5" fill="#111">125</text>
</g></g>
</svg>
</body></html>
